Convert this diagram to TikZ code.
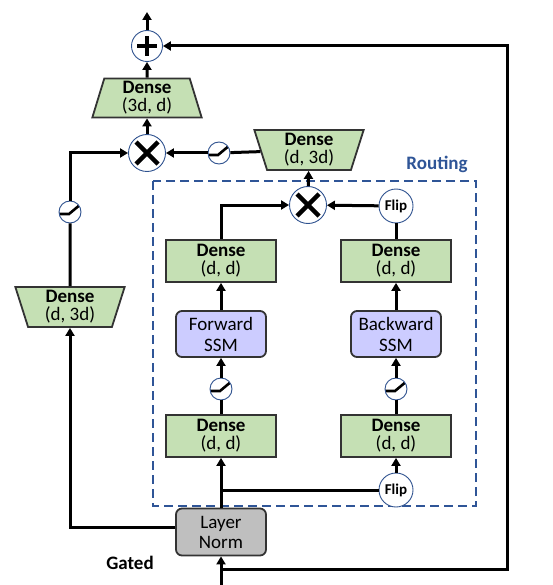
\documentclass[tikz,border=0pt]{standalone}
\usepackage{fontspec}
\setmainfont{Carlito}
\usetikzlibrary{shapes.geometric,arrows.meta}
\definecolor{densegreen}{HTML}{C5E0B4}
\definecolor{ssmpurple}{HTML}{CCCCFF}
\definecolor{normgrey}{HTML}{BFBFBF}
\definecolor{routeblue}{HTML}{2F5597}
\definecolor{ringblue}{HTML}{2F528F}
\definecolor{boxedge}{HTML}{333333}

\tikzset{
  wire/.style={line width=3pt},
  arr/.style={wire, -{Triangle[length=8pt,width=9pt]}},
  dense/.style={rectangle, draw=boxedge, line width=1.8pt, fill=densegreen, minimum width=110, minimum height=42, inner sep=0pt, align=center, font=\fontsize{19}{18}\selectfont},
  densedown/.style={dense, trapezium, trapezium stretches=true, trapezium left angle=78, trapezium right angle=78, minimum height=39},
  denseup/.style={dense, trapezium, trapezium stretches=true, trapezium left angle=103, trapezium right angle=103, minimum height=40},
  ssm/.style={rectangle, rounded corners=6pt, draw=boxedge, line width=1.8pt, fill=ssmpurple, minimum width=90, minimum height=46, inner sep=0pt, align=center, font=\fontsize{19}{21}\selectfont},
  norm/.style={ssm, fill=normgrey, minimum height=47, font=\fontsize{19}{20}\selectfont},
  ring/.style={circle, draw=ringblue, line width=0.9pt, fill=white, inner sep=0pt},
  act/.style={ring, minimum size=22, path picture={\draw[black, line width=2.6pt] ([shift={(-12pt,-2pt)}]path picture bounding box.center) -- ++(11pt,0pt) -- ++(12pt,10pt);}},
  mulop/.style={ring, minimum size=37, path picture={\draw[black, line width=4.5pt] ([shift={(-11pt,-11pt)}]path picture bounding box.center) -- ++(22pt,22pt) ([shift={(-11pt,11pt)}]path picture bounding box.center) -- ++(22pt,-22pt);}},
  plusop/.style={ring, minimum size=31, path picture={\draw[black, line width=4.5pt] ([xshift=-10pt]path picture bounding box.center) -- ++(20pt,0pt) ([yshift=-10pt]path picture bounding box.center) -- ++(0pt,20pt);}},
  flipop/.style={ring, minimum size=34, font=\bfseries\fontsize{15}{15}\selectfont},
  routebox/.style={draw=routeblue, line width=2.5pt, dash pattern=on 9pt off 5pt},
  tag/.style={font=\bfseries\fontsize{19}{19}\selectfont}
}

\begin{document}
\begin{tikzpicture}[x=1pt, y=-1pt]
        \useasboundingbox (0,0) rectangle (552,585);
        \draw[routebox] (153,181) rectangle (476,506);

        \node[plusop] (Sum) at (147,46) {};
        \node[densedown] (OutProj) at (147,98) {\textbf{Dense}\\(3d, d)};
        \node[mulop] (Gate) at (147,153) {};
        \node[act] (ActR) at (219,153) {};
        \node[denseup] (InProjR) at (309,150) {\textbf{Dense}\\(d, 3d)};
        \node[mulop] (Mix) at (308,205) {};
        \node[flipop] (FlipTop) at (396,206) {Flip};
        \node[dense] (FwdOut) at (221,261) {\textbf{Dense}\\(d, d)};
        \node[dense] (BwdOut) at (396,261) {\textbf{Dense}\\(d, d)};
        \node[ssm] (Fwd) at (221,334) {Forward\\SSM};
        \node[ssm] (Bwd) at (396,334) {Backward\\SSM};
        \node[act] (ActF) at (221,389) {};
        \node[act] (ActB) at (396,389) {};
        \node[dense] (FwdIn) at (221,436) {\textbf{Dense}\\(d, d)};
        \node[dense] (BwdIn) at (396,436) {\textbf{Dense}\\(d, d)};
        \node[flipop] (FlipBot) at (396,490) {Flip};
        \node[norm] (Norm) at (221,532) {Layer\\Norm};
        \node[denseup] (InProjL) at (70,307) {\textbf{Dense}\\(d, 3d)};
        \node[act] (ActL) at (70,212) {};
        \node[tag, text=routeblue] (RouteTag) at (437,164) {Routing};
        \node[tag] (GatedTag) at (130,563) {Gated};
        \coordinate (Top) at (147,12);
        \coordinate (Split) at (221,490);
        \coordinate (Bottom) at (221,585);
        \coordinate (Res) at (221,569);
        \coordinate (ResCorner) at (507,569);

        \draw[arr] (Sum) -- (Top);
        \draw[arr] (OutProj) -- (Sum);
        \draw[arr] (Gate) -- (OutProj);
        \draw[wire] (InProjR) -- (ActR);
        \draw[arr] (ActR) -- (Gate);
        \draw[arr] (Mix) -- (InProjR);
        \draw[arr] (FlipTop) -- (Mix);
        \draw[wire] (BwdOut) -- (FlipTop);
        \draw[arr] (FwdOut.north) |- (Mix);
        \draw[arr] (Fwd) -- (FwdOut);
        \draw[arr] (ActF) -- (Fwd);
        \draw[wire] (FwdIn) -- (ActF);
        \draw[arr] (Bwd) -- (BwdOut);
        \draw[arr] (ActB) -- (Bwd);
        \draw[wire] (BwdIn) -- (ActB);
        \draw[arr] (Norm) -- (FwdIn);
        \draw[wire] (Split) -- (FlipBot);
        \draw[arr] (FlipBot) -- (BwdIn);
        \draw[arr] ([yshift=5pt]Norm.west) -| (InProjL);
        \draw[wire] (InProjL) -- (ActL);
        \draw[arr] (ActL) |- (Gate);
        \draw[arr] (Bottom) -- (Norm);
        \draw[arr] (Res) -- (ResCorner) |- (Sum);
    \end{tikzpicture}
\end{document}
